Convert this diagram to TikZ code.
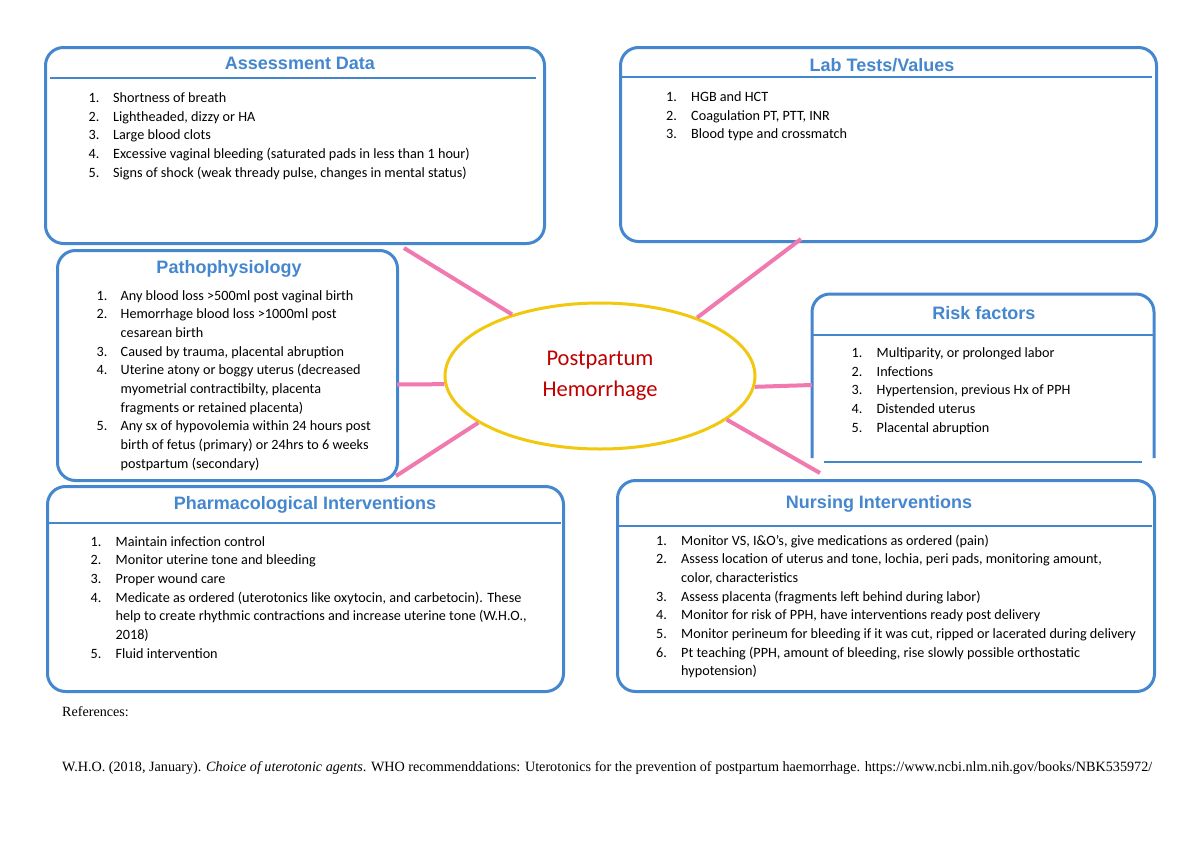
\documentclass[tikz,border=0pt]{standalone}
\usepackage{fontspec}
\setmainfont{Carlito}
\newfontfamily\headfont{Liberation Sans}
\newfontfamily\reffont{Liberation Serif}
\usetikzlibrary{shapes.geometric}
\definecolor{boxblue}{HTML}{4587CF}
\definecolor{pinkline}{HTML}{F07AB0}
\definecolor{pphyellow}{HTML}{F2C80F}
\definecolor{pphred}{HTML}{C00000}
\tikzset{
  box/.style={draw=boxblue, line width=3pt, rounded corners=18pt, inner sep=0pt, anchor=north west},
  sepline/.style={draw=boxblue, line width=2pt},
  conn/.style={draw=pinkline, line width=4pt},
  boxtitle/.style={font=\headfont\bfseries\fontsize{18}{22}\selectfont, text=boxblue, inner sep=0pt, anchor=base},
  itemlist/.style={font=\fontsize{14.2}{18.7}\selectfont, inner sep=0pt, anchor=base west},
  reftext/.style={font=\reffont\fontsize{14.1}{18}\selectfont, inner sep=0pt, anchor=base west},
}
\newcommand{\numlist}[2]{\begin{tabular}[t]{@{}p{#1}@{}l@{}}#2\end{tabular}}
\begin{document}
\begin{tikzpicture}[x=1pt, y=-1pt]
\useasboundingbox[fill=white] (0,0) rectangle (1200,849);

% central node
\node[ellipse, draw=pphyellow, line width=3pt, minimum width=310pt, minimum height=146pt, inner sep=0pt,
      text=pphred, font=\fontsize{22.5}{31}\selectfont, align=center] (pph) at (600,376) {Postpartum\\Hemorrhage};

% boxes
\node[box, minimum width=499pt, minimum height=196pt] (assess) at (44,46) {};
\node[box, minimum width=536pt, minimum height=194pt] (lab) at (619,46) {};
\node[box, minimum width=340pt, minimum height=230pt] (patho) at (56,249) {};
\node[inner sep=0pt, minimum width=342pt, minimum height=168pt, anchor=north west] (risk) at (812,294) {};
\draw[draw=boxblue, line width=3pt, rounded corners=18pt] (812,458) -- (812,294) -- (1154,294) -- (1154,458);
\draw[sepline] (824,462) -- (1142,462);
\node[box, minimum width=516pt, minimum height=205pt] (pharm) at (46,485) {};
\node[box, minimum width=537pt, minimum height=211pt] (nurse) at (616,479) {};

% separators
\draw[sepline] (50,77.5) -- (536,77.5);
\draw[sepline] (622,76.5) -- (1152,76.5);
\draw[sepline] (813,334.5) -- (1153,334.5);
\draw[sepline] (48,523) -- (561,523);
\draw[sepline] (617,526) -- (1152,526);

% titles
\node[boxtitle] (assessT) at (300,69) {Assessment Data};
\node[boxtitle] (labT) at (882,71) {Lab Tests/Values};
\node[boxtitle] (pathoT) at (229,273) {Pathophysiology};
\node[boxtitle] (riskT) at (984,319) {Risk factors};
\node[boxtitle] (pharmT) at (305,509) {Pharmacological Interventions};
\node[boxtitle] (nurseT) at (879,508) {Nursing Interventions};

% lists
\node[itemlist] (assessL) at (88.5,102.5) {\numlist{24.5pt}{%
1. & Shortness of breath\\
2. & Lightheaded, dizzy or HA\\
3. & Large blood clots\\
4. & Excessive vaginal bleeding (saturated pads in less than 1 hour)\\
5. & Signs of shock (weak thready pulse, changes in mental status)}};

\node[itemlist] (labL) at (666,101.5) {\numlist{25pt}{%
1. & HGB and HCT\\
2. & Coagulation PT, PTT, INR\\
3. & Blood type and crossmatch}};

\node[itemlist] (pathoL) at (96.5,300) {\numlist{24pt}{%
1. & Any blood loss >500ml post vaginal birth\\
2. & Hemorrhage blood loss >1000ml post\\
   & cesarean birth\\
3. & Caused by trauma, placental abruption\\
4. & Uterine atony or boggy uterus (decreased\\
   & myometrial contractibilty, placenta\\
   & fragments or retained placenta)\\
5. & Any sx of hypovolemia within 24 hours post\\
   & birth of fetus (primary) or 24hrs to 6 weeks\\
   & postpartum (secondary)}};

\node[itemlist] (riskL) at (851.5,357.5) {\numlist{25pt}{%
1. & Multiparity, or prolonged labor\\
2. & Infections\\
3. & Hypertension, previous Hx of PPH\\
4. & Distended uterus\\
5. & Placental abruption}};

\node[itemlist] (pharmL) at (90.5,546) {\numlist{25pt}{%
1. & Maintain infection control\\
2. & Monitor uterine tone and bleeding\\
3. & Proper wound care\\
4. & Medicate as ordered (uterotonics like oxytocin, and carbetocin). These\\
   & help to create rhythmic contractions and increase uterine tone (W.H.O.,\\
   & 2018)\\
5. & Fluid intervention}};

\node[itemlist] (nurseL) at (656,545) {\numlist{25pt}{%
1. & Monitor VS, I\&O’s, give medications as ordered (pain)\\
2. & Assess location of uterus and tone, lochia, peri pads, monitoring amount,\\
   & color, characteristics\\
3. & Assess placenta (fragments left behind during labor)\\
4. & Monitor for risk of PPH, have interventions ready post delivery\\
5. & Monitor perineum for bleeding if it was cut, ripped or lacerated during delivery\\
6. & Pt teaching (PPH, amount of bleeding, rise slowly possible orthostatic\\
   & hypotension)}};

% connectors
\coordinate (cAssess) at (404,248);
\coordinate (cLab) at (801,239);
\coordinate (cPatho) at (397,384.5);
\coordinate (cRisk) at (812,385);
\coordinate (cPharm) at (396,476);
\coordinate (cNurse) at (820,473);
\draw[conn] (pph.145.9) -- (cAssess);
\draw[conn] (pph.31.8) -- (cLab);
\draw[conn] (pph.183) -- (cPatho);
\draw[conn] (pph.356.7) -- (cRisk);
\draw[conn] (pph.201.1) -- (cPharm);
\draw[conn] (pph.341.8) -- (cNurse);

% references
\node[reftext] (refH) at (62,716) {References:};
\node[reftext, anchor=base west] (refL) at (62,771) {\resizebox{1090pt}{!}{W.H.O. (2018, January). \textit{Choice of uterotonic agents}. WHO recommenddations: Uterotonics for the prevention of postpartum haemorrhage. https://www.ncbi.nlm.nih.gov/books/NBK535972/}};
\end{tikzpicture}
\end{document}
